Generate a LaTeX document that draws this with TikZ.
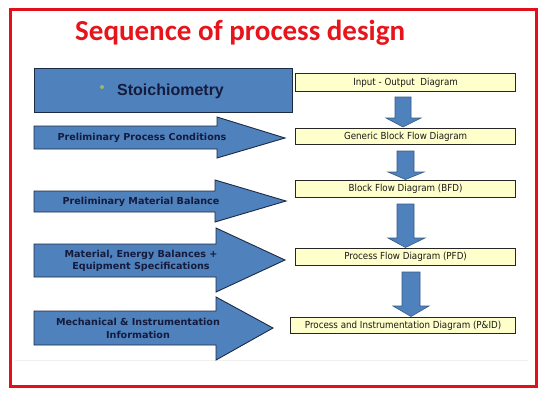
\documentclass[tikz,border=0pt]{standalone}
\usepackage{fontspec}
\setmainfont{DejaVu Sans}
\newfontfamily\titlefont{Carlito}
\newfontfamily\arialfont{Liberation Sans}
\newfontfamily\boxfont{DejaVu Sans Condensed}
\definecolor{framered}{HTML}{E3101B}
\definecolor{titlered}{HTML}{E8141B}
\definecolor{arrowblue}{HTML}{4F81BD}
\definecolor{arrowedge}{HTML}{1C2A44}
\definecolor{navytext}{HTML}{141B3C}
\definecolor{boxyellow}{HTML}{FFFFCC}
\definecolor{bulletgreen}{HTML}{9BBB59}
\tikzset{
  ybox/.style={draw=black!85, line width=1.2pt, fill=boxyellow, inner sep=0pt, anchor=north west,
    font=\boxfont\fontsize{9.7}{11}\selectfont, text=black!90},
  bigarrow/.style={draw=arrowedge, line width=0.9pt, fill=arrowblue, line join=miter},
  downarrow/.style={draw=arrowblue!70!black, line width=0.6pt, fill=arrowblue, line join=miter},
  alabel/.style={font=\bfseries\fontsize{9.6}{12.5}\selectfont, text=navytext, align=center, inner sep=0pt}
}
\begin{document}
\begin{tikzpicture}[x=1pt,y=-1pt]
\useasboundingbox (0,0) rectangle (544,400);
\fill[white] (0,0) rectangle (544,400);
% faint slide edge
\draw[gray!12, line width=0.8pt] (15,360) -- (528,360);
% red frame
\draw[framered, line width=3pt] (10,9) rectangle (536,386);
% title
\node[anchor=base west, inner sep=0pt, text=titlered, font=\titlefont\bfseries\fontsize{29}{31}\selectfont] (title) at (75,40) {Sequence of process design};
% stoichiometry box
\node[draw=arrowedge, line width=1.1pt, fill=arrowblue, anchor=north west, minimum width=258pt, minimum height=44pt, inner sep=0pt] (stoich) at (34,68) {};
\fill[bulletgreen] (102,87) circle (2pt);
\node[anchor=base west, inner sep=0pt, text=navytext, font=\arialfont\bfseries\fontsize{16}{18}\selectfont] (stoichtext) at (117,95.5) {Stoichiometry};
% yellow boxes
\node[ybox, minimum width=220pt, minimum height=18pt] (io) at (295,73) {Input - Output\ \ Diagram};
\node[ybox, minimum width=220pt, minimum height=16pt] (gbfd) at (295,128) {Generic Block Flow Diagram};
\node[ybox, minimum width=220pt, minimum height=17pt] (bfd) at (295,180) {Block Flow Diagram (BFD)};
\node[ybox, minimum width=220pt, minimum height=17pt] (pfd) at (295,248) {Process Flow Diagram (PFD)};
\node[ybox, minimum width=225pt, minimum height=16pt] (pid) at (290,317) {Process and Instrumentation Diagram (P\&ID)};
% down arrows
\draw[downarrow] (395,97) -- (411,97) -- (411,118) -- (421,118) -- (403,127) -- (386,118) -- (395,118) -- cycle;
\draw[downarrow] (397,151) -- (414,151) -- (414,172) -- (424,172) -- (405.5,179.5) -- (388,172) -- (397,172) -- cycle;
\draw[downarrow] (397,204) -- (414,204) -- (414,238) -- (425,238) -- (405.5,247.5) -- (388,238) -- (397,238) -- cycle;
\draw[downarrow] (402,272) -- (420,272) -- (420,306) -- (429,306) -- (411,316.5) -- (393,306) -- (402,306) -- cycle;
% big right arrows
\draw[bigarrow] (34,126) -- (217,126) -- (217,117) -- (285,138) -- (217,158) -- (217,149) -- (34,149) -- cycle;
\node[alabel] (l1) at (142,137.5) {Preliminary Process Conditions};
\draw[bigarrow] (34,191) -- (215,191) -- (215,180) -- (286,201) -- (215,222) -- (215,212) -- (34,212) -- cycle;
\node[alabel] (l2) at (141,202) {Preliminary Material Balance};
\draw[bigarrow] (34,244) -- (216,244) -- (216,228) -- (285,260) -- (216,292) -- (216,277) -- (34,277) -- cycle;
\node[alabel] (l3) at (141,261) {Material, Energy Balances +\\Equipment Specifications};
\draw[bigarrow] (34,311) -- (216,311) -- (216,297) -- (273,328) -- (216,360) -- (216,345) -- (34,345) -- cycle;
\node[alabel] (l4) at (138,328.5) {Mechanical \& Instrumentation\\Information};
\end{tikzpicture}
\end{document}
